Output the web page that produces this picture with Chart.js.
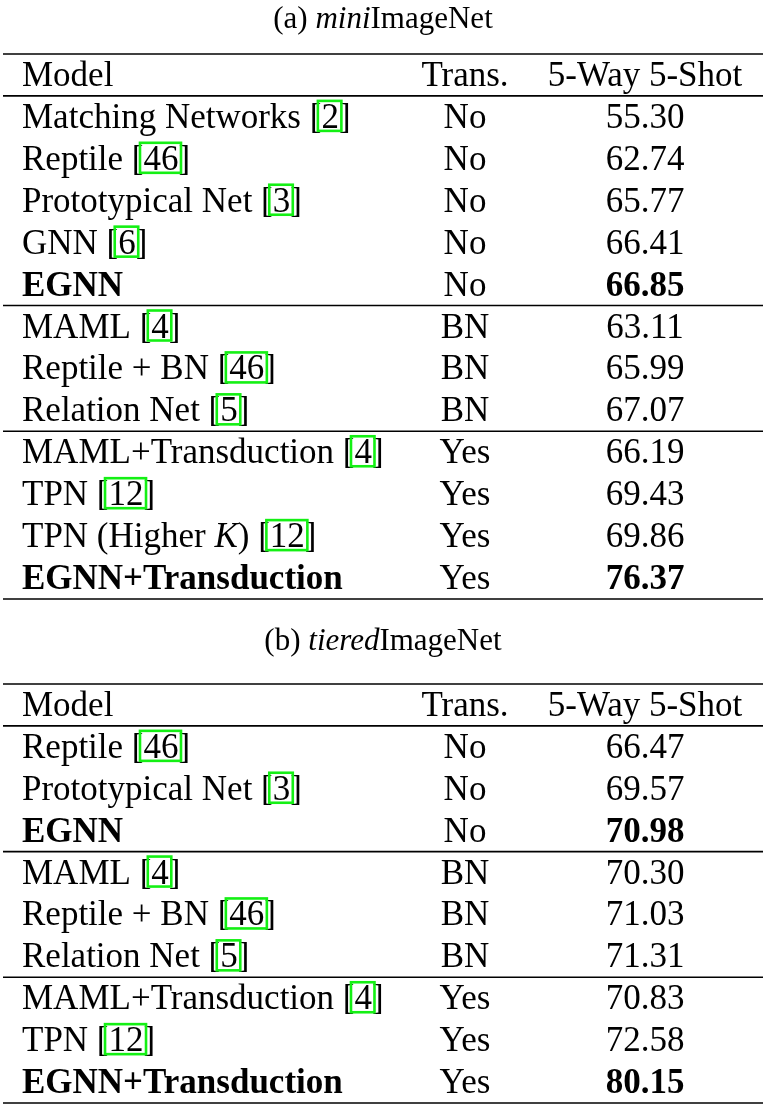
<!DOCTYPE html>
<html>
<head>
<meta charset="utf-8">
<script src="https://cdn.jsdelivr.net/npm/chart.js@4.4.0/dist/chart.umd.min.js"></script>
<style>
  html, body { margin: 0; padding: 0; background: #fff; }
  .box { position: absolute; left: 0; width: 766px; }
</style>
</head>
<body>
<div class="box" style="top:0;height:610px"><canvas id="miniChart"></canvas></div>
<div class="box" style="top:610px;height:498px"><canvas id="tieredChart"></canvas></div>
<script>
// column headers (same for both tables)
const headers = ['Model', 'Trans.', '5-Way 5-Shot'];

// (a) miniImageNet
const miniModels = [
  'Matching Networks [2]', 'Reptile [46]', 'Prototypical Net [3]', 'GNN [6]', 'EGNN',
  'MAML [4]', 'Reptile + BN [46]', 'Relation Net [5]',
  'MAML+Transduction [4]', 'TPN [12]', 'TPN (Higher *K*) [12]', 'EGNN+Transduction'
];
const miniTrans = ['No', 'No', 'No', 'No', 'No', 'BN', 'BN', 'BN', 'Yes', 'Yes', 'Yes', 'Yes'];
const miniShot = [55.30, 62.74, 65.77, 66.41, 66.85, 63.11, 65.99, 67.07, 66.19, 69.43, 69.86, 76.37];
const miniBold = [false, false, false, false, true, false, false, false, false, false, false, true];
const miniGroups = [5, 3, 4];

// (b) tieredImageNet
const tieredModels = [
  'Reptile [46]', 'Prototypical Net [3]', 'EGNN',
  'MAML [4]', 'Reptile + BN [46]', 'Relation Net [5]',
  'MAML+Transduction [4]', 'TPN [12]', 'EGNN+Transduction'
];
const tieredTrans = ['No', 'No', 'No', 'BN', 'BN', 'BN', 'Yes', 'Yes', 'Yes'];
const tieredShot = [66.47, 69.57, 70.98, 70.30, 71.03, 71.31, 70.83, 72.58, 80.15];
const tieredBold = [false, false, true, false, false, false, false, false, true];
const tieredGroups = [3, 3, 3];

const FONT = '"Liberation Serif", "Times New Roman", serif';
const SIZE = 35;
const colX = [19, 462, 642];   // model text left edge, other columns centred
const colAlign = ['left', 'center', 'center'];

function fontStr(style, size) {
  return (style.italic ? 'italic ' : '') + (style.bold ? 'bold ' : '') + size + 'px ' + FONT;
}

// split "Name [12]" / "*K*" into styled pieces
function parseRich(text, bold) {
  const parts = text.split(/(\*[^*]+\*|\[\d+\])/).filter(s => s.length);
  return parts.map(p => {
    if (p[0] === '*') return { text: p.slice(1, -1), italic: true, bold: bold };
    if (p[0] === '[') return { text: p.slice(1, -1), cite: true, bold: bold };
    return { text: p, bold: bold };
  });
}

function drawRich(ctx, segs, x, y, align, size) {
  // measure
  let total = 0;
  segs.forEach(s => {
    ctx.font = fontStr(s, size);
    s.w = ctx.measureText(s.text).width;
    if (s.cite) {
      s.bw = ctx.measureText('[').width;
      s.w += 2 * s.bw;
    }
    total += s.w;
  });
  let cx = align === 'center' ? x - total / 2 : x;
  ctx.textAlign = 'left';
  ctx.textBaseline = 'alphabetic';
  segs.forEach(s => {
    ctx.font = fontStr(s, size);
    ctx.fillStyle = '#000';
    if (s.cite) {
      ctx.fillText('[', cx, y);
      const dw = s.w - 2 * s.bw;
      ctx.fillText(s.text, cx + s.bw, y);
      ctx.fillText(']', cx + s.bw + dw, y);
      // green link box round the citation number
      ctx.strokeStyle = 'rgb(20,240,20)';
      ctx.lineWidth = 2.6;
      ctx.strokeRect(cx + s.bw - 3.5, y - 27, dw + 6, 30);
    } else {
      ctx.fillText(s.text, cx, y);
    }
    cx += s.w;
  });
}

const tablePlugin = {
  id: 'tableText',
  afterDatasetsDraw(chart) {
    const ctx = chart.ctx;
    const opt = chart.options.plugins.tableText;
    const area = chart.chartArea;
    const yScale = chart.scales.y;
    ctx.save();

    // title
    drawRich(ctx, parseRich(opt.title, false), (area.left + area.right) / 2, area.top - opt.titleGap, 'center', 31);

    // cells
    chart.data.datasets.forEach((ds, c) => {
      const meta = chart.getDatasetMeta(c);
      meta.data.forEach((pt, i) => {
        const raw = ds.cells[i];
        const bold = c !== 1 && ds.bold[i];
        drawRich(ctx, parseRich(raw, bold), pt.x, pt.y + 11, colAlign[c], SIZE);
      });
    });

    // rules
    ctx.strokeStyle = '#000';
    ctx.lineWidth = 1.6;
    const rule = y => {
      ctx.beginPath();
      ctx.moveTo(area.left, y);
      ctx.lineTo(area.right, y);
      ctx.stroke();
    };
    const mid = k => (yScale.getPixelForValue(k - 1) + yScale.getPixelForValue(k)) / 2;
    rule(area.top);
    rule(area.bottom);
    rule(mid(1));
    let k = 1;
    opt.groups.slice(0, -1).forEach(n => { k += n; rule(mid(k)); });
    ctx.restore();
  }
};

function makeTable(id, title, titleGap, models, trans, shot, bold, groups, pad) {
  const rows = ['header'].concat(models);
  const cols = [
    [headers[0]].concat(models),
    [headers[1]].concat(trans),
    [headers[2]].concat(shot.map(v => v.toFixed(2)))
  ];
  const boldRows = [false].concat(bold);
  const datasets = cols.map((cells, c) => ({
    data: cells.map((_, i) => ({ x: colX[c], y: i })),
    cells: cells,
    bold: boldRows,
    pointRadius: 0,
    pointHoverRadius: 0,
    showLine: false
  }));
  new Chart(document.getElementById(id), {
    type: 'scatter',
    data: { datasets: datasets },
    options: {
      responsive: true,
      maintainAspectRatio: false,
      animation: false,
      events: [],
      layout: { padding: pad },
      scales: {
        x: { type: 'linear', min: 0, max: 760, display: false },
        y: { type: 'category', labels: rows, offset: true, display: false }
      },
      plugins: {
        legend: { display: false },
        tooltip: { enabled: false },
        tableText: { title: title, titleGap: titleGap, groups: groups }
      }
    },
    plugins: [tablePlugin]
  });
}

makeTable('miniChart', '(a) *mini*ImageNet', 26, miniModels, miniTrans, miniShot, miniBold, miniGroups,
  { top: 54, bottom: 11, left: 3, right: 3 });
makeTable('tieredChart', '(b) *tiered*ImageNet', 34, tieredModels, tieredTrans, tieredShot, tieredBold, tieredGroups,
  { top: 74, bottom: 5, left: 3, right: 3 });
</script>
</body>
</html>
